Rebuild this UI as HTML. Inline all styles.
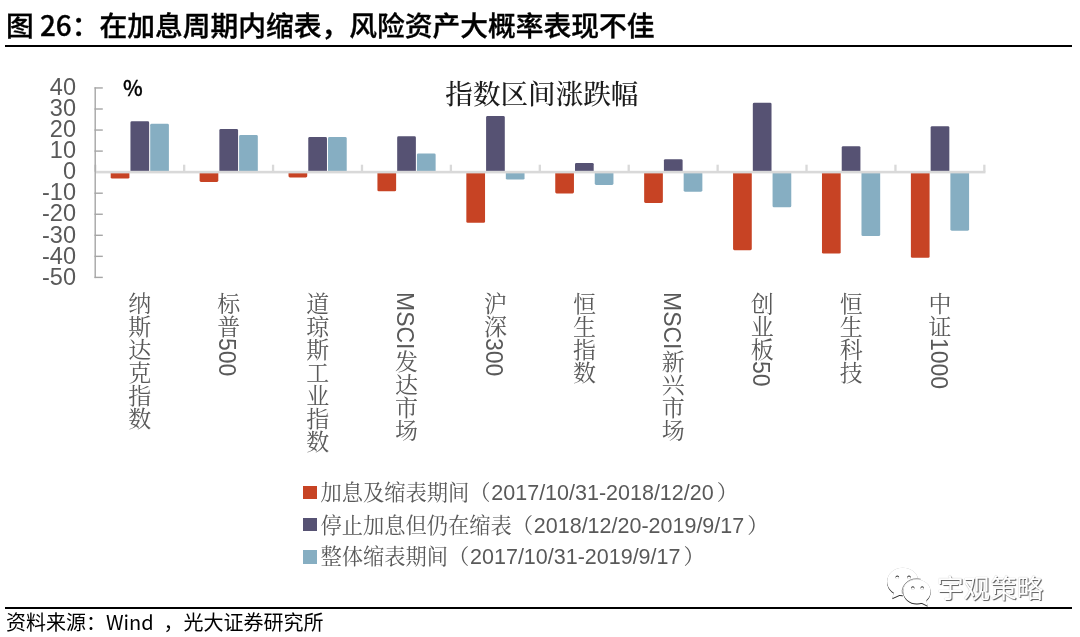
<!DOCTYPE html>
<html lang="zh-CN"><head><meta charset="utf-8"><title>图 26</title>
<style>
html,body{margin:0;padding:0;background:#fff;}
body{width:1080px;height:637px;position:relative;overflow:hidden;font-family:"Liberation Sans","Noto Sans CJK SC",sans-serif;}
.title{position:absolute;left:6px;top:4px;font:500 27.75px/40px "Noto Sans CJK SC","Liberation Sans",sans-serif;color:#000;white-space:nowrap;-webkit-text-stroke:0.35px #000;}
.rule{position:absolute;left:5px;width:1067px;height:2px;background:#000;}
.src{position:absolute;left:6px;top:607px;word-spacing:5.3px;font:20px/30px "Noto Sans CJK SC","Liberation Sans",sans-serif;color:#000;white-space:nowrap;}
svg.chart{position:absolute;left:0;top:0;}
.yl{position:absolute;left:20px;width:56px;text-align:right;font:23.5px/26px "Liberation Sans",sans-serif;color:#595959;}
.pct{position:absolute;left:123px;top:72px;font:500 21px/30px "Noto Sans CJK SC","Liberation Sans",sans-serif;color:#000;-webkit-text-stroke:0.3px #000;}
.ctitle{position:absolute;left:445.3px;top:72.6px;font:500 27.6px/38px "Noto Serif CJK SC","Liberation Serif",serif;color:#1c1c1c;white-space:nowrap;}
.cat{position:absolute;top:291.8px;width:30px;writing-mode:vertical-rl;font:23px/30px "Liberation Sans","Noto Serif CJK SC",serif;color:#595959;white-space:nowrap;}
.sq{position:absolute;left:303px;width:14px;height:13.75px;}
.leg .c{font-size:21.25px;} .leg .d{margin-left:0.7px;} .leg .e{margin-left:3px;}
.leg{position:absolute;left:320.6px;font:21.5px/30px "Liberation Sans","Noto Serif CJK SC",serif;color:#595959;white-space:nowrap;}
.wm{position:absolute;left:937px;top:567.3px;font:26.6px/40px "Noto Sans CJK SC",sans-serif;color:#fff;text-shadow:1px 1px 0.7px rgba(0,0,0,.62),0 0 1px rgba(0,0,0,.3);white-space:nowrap;}
svg.wx{position:absolute;left:880px;top:560px;overflow:visible;}
svg.wx path{filter:drop-shadow(0.5px 1px 0.6px rgba(0,0,0,.75)) drop-shadow(0 0 0.7px rgba(0,0,0,.35));}
</style></head><body>
<div class="title">图 26：在加息周期内缩表，风险资产大概率表现不佳</div>
<div class="rule" style="top:45.1px;height:1.8px"></div>
<svg class="chart" width="1080" height="637" viewBox="0 0 1080 637">
<rect x="110.70" y="172.10" width="18.70" height="6.50" rx="1.4" fill="#c74324"/>
<rect x="130.45" y="121.30" width="18.70" height="50.80" rx="1.4" fill="#565273"/>
<rect x="150.20" y="123.80" width="18.70" height="48.30" rx="1.4" fill="#86aec2"/>
<rect x="199.61" y="172.10" width="18.70" height="9.80" rx="1.4" fill="#c74324"/>
<rect x="219.36" y="129.00" width="18.70" height="43.10" rx="1.4" fill="#565273"/>
<rect x="239.11" y="135.00" width="18.70" height="37.10" rx="1.4" fill="#86aec2"/>
<rect x="288.52" y="172.10" width="18.70" height="5.40" rx="1.4" fill="#c74324"/>
<rect x="308.27" y="137.10" width="18.70" height="35.00" rx="1.4" fill="#565273"/>
<rect x="328.02" y="137.10" width="18.70" height="35.00" rx="1.4" fill="#86aec2"/>
<rect x="377.43" y="172.10" width="18.70" height="19.20" rx="1.4" fill="#c74324"/>
<rect x="397.18" y="136.30" width="18.70" height="35.80" rx="1.4" fill="#565273"/>
<rect x="416.93" y="153.40" width="18.70" height="18.70" rx="1.4" fill="#86aec2"/>
<rect x="466.34" y="172.10" width="18.70" height="50.70" rx="1.4" fill="#c74324"/>
<rect x="486.09" y="116.00" width="18.70" height="56.10" rx="1.4" fill="#565273"/>
<rect x="505.84" y="172.10" width="18.70" height="7.50" rx="1.4" fill="#86aec2"/>
<rect x="555.25" y="172.10" width="18.70" height="21.30" rx="1.4" fill="#c74324"/>
<rect x="575.00" y="162.90" width="18.70" height="9.20" rx="1.4" fill="#565273"/>
<rect x="594.75" y="172.10" width="18.70" height="12.80" rx="1.4" fill="#86aec2"/>
<rect x="644.16" y="172.10" width="18.70" height="30.90" rx="1.4" fill="#c74324"/>
<rect x="663.91" y="159.20" width="18.70" height="12.90" rx="1.4" fill="#565273"/>
<rect x="683.66" y="172.10" width="18.70" height="19.60" rx="1.4" fill="#86aec2"/>
<rect x="733.07" y="172.10" width="18.70" height="78.10" rx="1.4" fill="#c74324"/>
<rect x="752.82" y="102.70" width="18.70" height="69.40" rx="1.4" fill="#565273"/>
<rect x="772.57" y="172.10" width="18.70" height="35.20" rx="1.4" fill="#86aec2"/>
<rect x="821.98" y="172.10" width="18.70" height="81.50" rx="1.4" fill="#c74324"/>
<rect x="841.73" y="146.20" width="18.70" height="25.90" rx="1.4" fill="#565273"/>
<rect x="861.48" y="172.10" width="18.70" height="64.00" rx="1.4" fill="#86aec2"/>
<rect x="910.89" y="172.10" width="18.70" height="85.70" rx="1.4" fill="#c74324"/>
<rect x="930.64" y="126.20" width="18.70" height="45.90" rx="1.4" fill="#565273"/>
<rect x="950.39" y="172.10" width="18.70" height="58.60" rx="1.4" fill="#86aec2"/>
<rect x="95.2" y="170.8" width="890.30" height="2.6" fill="#d9d9d9"/>
<rect x="94.10" y="164.7" width="2.3" height="7" fill="#d9d9d9"/>
<rect x="183.01" y="164.7" width="2.3" height="7" fill="#d9d9d9"/>
<rect x="271.92" y="164.7" width="2.3" height="7" fill="#d9d9d9"/>
<rect x="360.83" y="164.7" width="2.3" height="7" fill="#d9d9d9"/>
<rect x="449.74" y="164.7" width="2.3" height="7" fill="#d9d9d9"/>
<rect x="538.65" y="164.7" width="2.3" height="7" fill="#d9d9d9"/>
<rect x="627.56" y="164.7" width="2.3" height="7" fill="#d9d9d9"/>
<rect x="716.47" y="164.7" width="2.3" height="7" fill="#d9d9d9"/>
<rect x="805.38" y="164.7" width="2.3" height="7" fill="#d9d9d9"/>
<rect x="894.29" y="164.7" width="2.3" height="7" fill="#d9d9d9"/>
<rect x="983.20" y="164.7" width="2.3" height="7" fill="#d9d9d9"/>
<rect x="94.5" y="87.3" width="1.4" height="190.8" fill="#a6a6a6"/>
<rect x="94.5" y="87.25" width="8.3" height="1.4" fill="#a6a6a6"/>
<rect x="94.5" y="108.30" width="8.3" height="1.4" fill="#a6a6a6"/>
<rect x="94.5" y="129.35" width="8.3" height="1.4" fill="#a6a6a6"/>
<rect x="94.5" y="150.40" width="8.3" height="1.4" fill="#a6a6a6"/>
<rect x="94.5" y="192.50" width="8.3" height="1.4" fill="#a6a6a6"/>
<rect x="94.5" y="213.55" width="8.3" height="1.4" fill="#a6a6a6"/>
<rect x="94.5" y="234.60" width="8.3" height="1.4" fill="#a6a6a6"/>
<rect x="94.5" y="255.65" width="8.3" height="1.4" fill="#a6a6a6"/>
<rect x="94.5" y="276.70" width="8.3" height="1.4" fill="#a6a6a6"/>
</svg>
<div class="yl" style="top:74.15px">40</div>
<div class="yl" style="top:95.20px">30</div>
<div class="yl" style="top:116.25px">20</div>
<div class="yl" style="top:137.30px">10</div>
<div class="yl" style="top:158.35px">0</div>
<div class="yl" style="top:179.40px">-10</div>
<div class="yl" style="top:200.45px">-20</div>
<div class="yl" style="top:221.50px">-30</div>
<div class="yl" style="top:242.55px">-40</div>
<div class="yl" style="top:263.60px">-50</div>
<div class="pct">%</div>
<div class="ctitle">指数区间涨跌幅</div>
<div class="cat" style="left:123.36px">纳斯达克指数</div>
<div class="cat" style="left:212.26px">标普500</div>
<div class="cat" style="left:301.17px">道琼斯工业指数</div>
<div class="cat" style="left:390.08px">MSCI发达市场</div>
<div class="cat" style="left:478.99px">沪深300</div>
<div class="cat" style="left:567.91px">恒生指数</div>
<div class="cat" style="left:656.82px">MSCI新兴市场</div>
<div class="cat" style="left:745.73px">创业板50</div>
<div class="cat" style="left:834.64px">恒生科技</div>
<div class="cat" style="left:923.55px">中证1000</div>
<i class="sq" style="top:485.5px;background:#c74324"></i>
<i class="sq" style="top:517.5px;background:#565273"></i>
<i class="sq" style="top:550px;background:#86aec2"></i>
<div class="leg" style="top:478px"><span class="c">加息及缩表期间（</span><span class="d">2017/10/31-2018/12/20</span><span class="c e">）</span></div>
<div class="leg" style="top:510.6px"><span class="c">停止加息但仍在缩表（</span><span class="d">2018/12/20-2019/9/17</span><span class="c e">）</span></div>
<div class="leg" style="top:542px"><span class="c">整体缩表期间（</span><span class="d">2017/10/31-2019/9/17</span><span class="c e">）</span></div>
<svg class="wx" width="60" height="52" viewBox="0 0 60 52">
<path fill="#fff" d="M7.10,21.5a15.7,13.7 0 1,1 31.40,0a15.7,13.7 0 1,1 -31.40,0zM20.5,34.5L12.2,38.3L14.2,31.5zM15.50,17.3a1.8,1.8 0 1,0 3.60,0a1.8,1.8 0 1,0 -3.60,0zM27.20,17.3a1.8,1.8 0 1,0 3.60,0a1.8,1.8 0 1,0 -3.60,0z"/>
<ellipse cx="36.9" cy="31.6" rx="14.9" ry="13.2" fill="#fff" style="filter:none"/>
<path d="M22.4,33.8A14.5,12.8 0 0 1 40.7,19.2" fill="none" stroke="rgba(0,0,0,.42)" stroke-width="1" style="filter:none"/>
<path fill="#fff" d="M23.20,31.6a13.7,12 0 1,1 27.40,0a13.7,12 0 1,1 -27.40,0zM46.3,39.5L47.6,45.8L41,42.6zM31.10,27.9a1.7,1.7 0 1,0 3.40,0a1.7,1.7 0 1,0 -3.40,0zM40.50,27.9a1.7,1.7 0 1,0 3.40,0a1.7,1.7 0 1,0 -3.40,0z"/>
</svg>
<div class="wm">宇观策略</div>
<div class="rule" style="top:607.2px;height:1.5px"></div>
<div class="src">资料来源：Wind ，光大证券研究所</div>
</body></html>
